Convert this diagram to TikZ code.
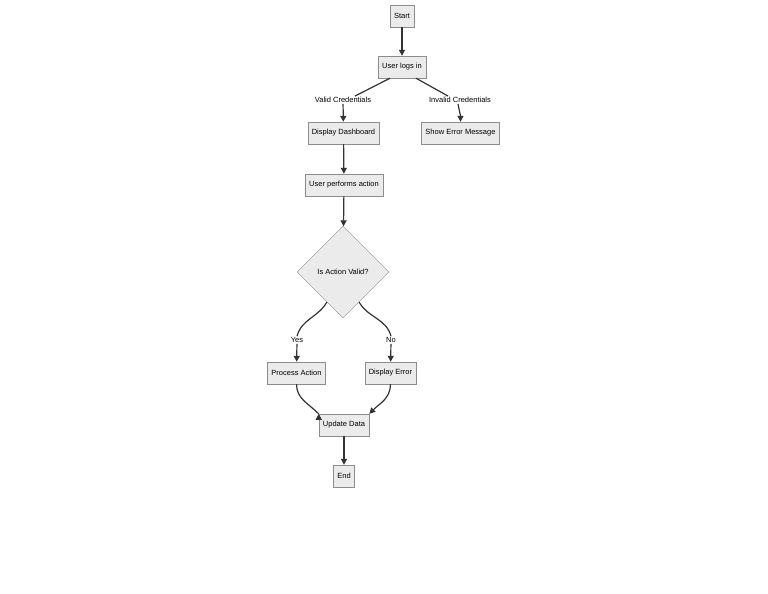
\documentclass[tikz,border=0pt]{standalone}
\usepackage{fontspec}
\setmainfont{Liberation Sans}
\usetikzlibrary{shapes.geometric,arrows.meta}
\begin{document}
\begin{tikzpicture}[x=1pt,y=-1pt,
  box/.style={draw=black!45,fill=black!8,font=\fontsize{7.5}{9}\selectfont,minimum height=22pt,inner xsep=4pt},
  lab/.style={font=\fontsize{7.5}{9}\selectfont,inner sep=1pt},
  dia/.style={diamond,draw=black!45,fill=black!8,font=\fontsize{7.5}{9}\selectfont,minimum width=92pt,minimum height=92pt,inner sep=0pt},
  conn/.style={draw=black!80,line width=1.2pt,-{Triangle[length=6pt,width=6pt]}},
  seg/.style={draw=black!80,line width=1.2pt}]
\useasboundingbox (0,0) rectangle (768,594);
\node[box] (start) at (402,16) {Start};
\node[box] (login) at (402,67) {User logs in};
\node[lab] (valid) at (343,100) {Valid Credentials};
\node[lab] (invalid) at (460,100) {Invalid Credentials};
\node[box] (dash) at (343.5,133) {Display Dashboard};
\node[box] (err) at (460.5,133) {Show Error Message};
\node[box] (act) at (344,185) {User performs action};
\node[dia] (dec) at (343,272) {Is Action Valid?};
\node[lab] (yes) at (297,340) {Yes};
\node[lab] (no) at (391,340) {No};
\node[box] (proc) at (296.5,373) {Process Action};
\node[box] (derr) at (390.5,373) {Display Error};
\node[box] (upd) at (344,425) {Update Data};
\node[box] (end) at (344,476) {End};
\draw[conn] (start) -- (login);
\draw[seg] (login.south west) ++(12,0) coordinate (l1) -- (valid.north -| 355,0);
\draw[seg] (login.south east) ++(-10,0) coordinate (l2) -- (invalid.north -| 448,0);
\draw[conn] (valid) -- (dash);
\draw[conn] (invalid.south -| 458,0) to[out=-80,in=90] (err.north);
\draw[conn] (dash) -- (act);
\draw[conn] (act) -- (dec);
\draw[seg] (dec.south west) ++(7,7) coordinate (d1) to[out=-120,in=75] (yes.north);
\draw[seg] (dec.south east) ++(-7,7) coordinate (d2) to[out=-60,in=105] (no.north);
\draw[conn] (yes) -- (proc);
\draw[conn] (no) -- (derr);
\draw[conn] (proc.south) to[out=-90,in=135] (upd.north west) ++(0,0);
\draw[conn] (derr.south) to[out=-90,in=45] (upd.north east);
\draw[conn] (upd) -- (end);
\end{tikzpicture}
\end{document}
